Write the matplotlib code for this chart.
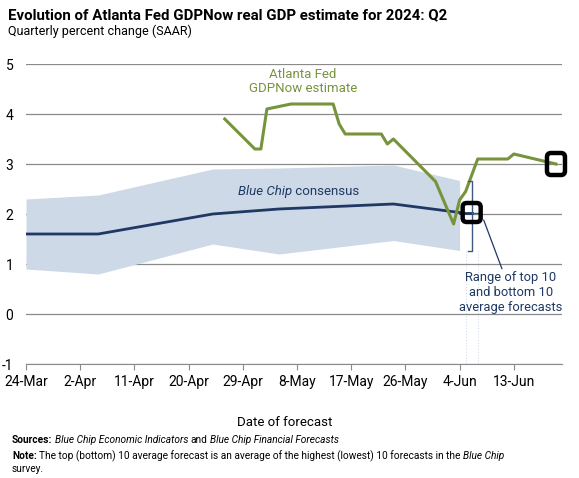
import matplotlib
matplotlib.use("Agg")
import matplotlib.pyplot as plt
import matplotlib.transforms as mtransforms
from matplotlib.patches import FancyBboxPatch
import pandas as pd

plt.rcParams['font.family'] = ['Roboto', 'DejaVu Sans']

# GDPNow estimate for 2024:Q2
gdpnow_dates = ['2024-04-26', '2024-05-01', '2024-05-02', '2024-05-03', '2024-05-07',
                '2024-05-14', '2024-05-15', '2024-05-16', '2024-05-22', '2024-05-23',
                '2024-05-24', '2024-05-31', '2024-06-03', '2024-06-04', '2024-06-05',
                '2024-06-07', '2024-06-12', '2024-06-13', '2024-06-20']
gdpnow_vals = [3.9, 3.3, 3.3, 4.1, 4.2,
               4.2, 3.8, 3.6, 3.6, 3.4,
               3.5, 2.65, 1.8, 2.28, 2.45,
               3.1, 3.1, 3.2, 3.0]

# Blue Chip consensus and top/bottom 10 averages
bc_dates = ['2024-03-24', '2024-04-05', '2024-04-24', '2024-05-05', '2024-05-24', '2024-06-04']
bc_consensus = [1.6, 1.6, 2.0, 2.1, 2.2, 2.03]
bc_top10 = [2.3, 2.38, 2.9, 2.92, 2.98, 2.67]
bc_bottom10 = [0.9, 0.8, 1.4, 1.2, 1.47, 1.27]

range_date = '2024-06-06'
tick_dates = ['2024-03-24', '2024-04-02', '2024-04-11', '2024-04-20', '2024-04-29',
              '2024-05-08', '2024-05-17', '2024-05-26', '2024-06-04', '2024-06-13']
tick_labels = ['24-Mar', '2-Apr', '11-Apr', '20-Apr', '29-Apr',
               '8-May', '17-May', '26-May', '4-Jun', '13-Jun']
y_ticks = [-1, 0, 1, 2, 3, 4, 5]

W, H = 579, 478
GREEN = '#77933c'
NAVY = '#1f3864'
BAND = '#cdd9e6'
GRID = '#8a8a8a'

gd = pd.to_datetime(gdpnow_dates)
bd = pd.to_datetime(bc_dates)
rd = pd.Timestamp(range_date)

fig = plt.figure(figsize=(W / 100, H / 100), dpi=100)
ax = fig.add_axes([26 / W, 1 - 364 / H, (562 - 26) / W, 300 / H])

ax.fill_between(bd, bc_bottom10, bc_top10, color=BAND, lw=0, zorder=1)
ax.plot(bd, bc_consensus, color=NAVY, lw=2, zorder=3)
ax.plot(gd, gdpnow_vals, color=GREEN, lw=2.2, zorder=4)

# faint drop lines under the range bracket
for d in [pd.Timestamp('2024-06-05'), pd.Timestamp('2024-06-07')]:
    ax.plot([d, d], [-1, bc_bottom10[-1]], color='#d3dbe6', lw=0.8, ls=':', zorder=0)

# range bracket
off = pd.Timedelta(hours=14)
ax.plot([rd - off, rd, rd, rd - off], [bc_top10[-1], bc_top10[-1], bc_bottom10[-1], bc_bottom10[-1]],
        color='#3c5a80', lw=1, zorder=5)
ax.plot([bd[-1], rd], [bc_consensus[-1], bc_consensus[-1]], color=NAVY, lw=2, zorder=3)
ax.plot([rd, rd + pd.Timedelta(days=1)], [bc_consensus[-1], bc_consensus[-1]], color='#3c5a80', lw=1, zorder=5)


def box_at(xd, yv, w, h):
    tr = fig.dpi_scale_trans + mtransforms.ScaledTranslation(
        matplotlib.dates.date2num(xd), yv, ax.transData)
    p = FancyBboxPatch((-w / 2, -h / 2), w, h, boxstyle='round,pad=0,rounding_size=0.04',
                       transform=tr, fill=False, ec='black', lw=3.2, zorder=6, clip_on=False)
    ax.add_patch(p)


box_at(rd, bc_consensus[-1], 0.18, 0.19)
box_at(gd[-1], gdpnow_vals[-1], 0.18, 0.22)

ax.annotate('Range of top 10\nand bottom 10\naverage forecasts',
            xy=(pd.Timestamp('2024-06-08'), 1.88), xytext=(pd.Timestamp('2024-06-12 12:00'), 0.85),
            ha='center', va='top', fontsize=9.3, color=NAVY, linespacing=1.15,
            arrowprops=dict(arrowstyle='-', color=NAVY, lw=0.9, shrinkA=0, shrinkB=0), zorder=7)

ax.text(pd.Timestamp('2024-05-09'), 4.93, 'Atlanta Fed\nGDPNow estimate', ha='center', va='top',
        fontsize=9.5, color=GREEN, linespacing=1.1)
t1 = ax.text(pd.Timestamp('2024-04-28 05:00'), 2.45, 'Blue Chip', ha='left', va='center',
             fontsize=9.5, color=NAVY, style='italic')
ax.annotate(' consensus', xy=(1, 0), xycoords=t1, va='bottom', ha='left', fontsize=9.5, color=NAVY)

ax.set_xlim(pd.Timestamp('2024-03-24'), pd.Timestamp('2024-06-21'))
ax.set_ylim(-1, 5)
ax.set_yticks(y_ticks)
ax.set_yticklabels([str(v) for v in y_ticks], fontsize=10)
ax.set_xticks(pd.to_datetime(tick_dates))
ax.set_xticklabels(tick_labels, fontsize=10)
ax.grid(axis='y', color=GRID, lw=0.9, zorder=0)
ax.set_axisbelow(True)
for s in ['top', 'right', 'left']:
    ax.spines[s].set_visible(False)
ax.spines['bottom'].set_color(GRID)
ax.tick_params(axis='y', length=0, pad=9)
ax.tick_params(axis='x', length=4, color=GRID, pad=4)

fig.text(8 / W, 1 - 19 / H, 'Evolution of Atlanta Fed GDPNow real GDP estimate for 2024: Q2',
         fontsize=10.8, weight='semibold', va='baseline')
fig.text(8 / W, 1 - 35 / H, 'Quarterly percent change (SAAR)', fontsize=9, va='baseline')
fig.text(285 / W, 1 - 422 / H, 'Date of forecast', fontsize=9.5, ha='center', va='center')

renderer = fig.canvas.get_renderer()


def draw_runs(x_px, y_px, runs, size=7.3):
    x = x_px
    for txt, style, weight in runs:
        t = fig.text(x / W, 1 - y_px / H, txt, fontsize=size, style=style, weight=weight, va='baseline')
        x += t.get_window_extent(renderer=renderer).width + 2.5


draw_runs(12, 443, [('Sources:', 'normal', 'bold'),
                    ('Blue Chip Economic Indicators', 'italic', 'normal'),
                    ('and', 'normal', 'normal'),
                    ('Blue Chip Financial Forecasts', 'italic', 'normal')])
draw_runs(12, 459, [('Note:', 'normal', 'bold'),
                    ('The top (bottom) 10 average forecast is an average of the highest (lowest) 10 forecasts in the',
                     'normal', 'normal'),
                    ('Blue Chip', 'italic', 'normal')])
draw_runs(12, 472, [('survey.', 'normal', 'normal')])

fig.savefig('out.png', dpi=100)
